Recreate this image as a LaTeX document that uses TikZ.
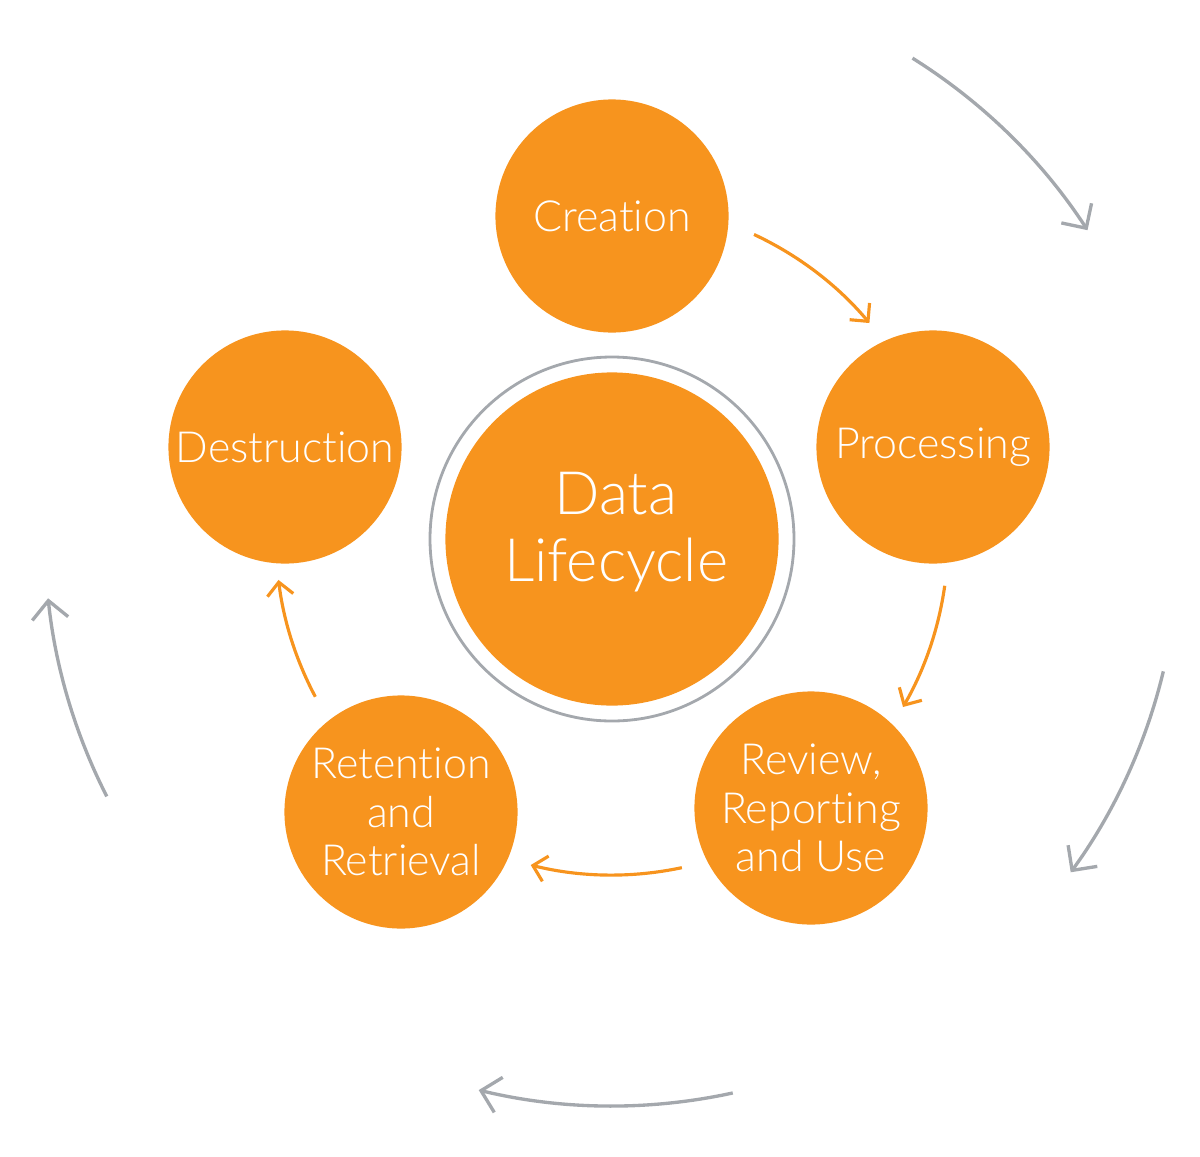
\documentclass[tikz,border=0pt]{standalone}
\usepackage{fontspec}
\setmainfont{Lato}[UprightFont={* Light},Ligatures=CommonOff]
\usetikzlibrary{arrows.meta}
\definecolor{lifeorange}{HTML}{F7941E}
\definecolor{lifegray}{HTML}{A4A8AD}

\begin{document}
\begin{tikzpicture}[x=.01cm,y=.01cm,
  stage/.style={circle,fill=lifeorange,minimum size=2.33cm,inner sep=0pt,text=white,align=center,font=\fontsize{12.2}{13.7}\selectfont},
  stageflow/.style={lifeorange,line width=.9pt,-{Straight Barb[length=1.3mm,width=2.6mm]}},
  ringflow/.style={lifegray,line width=.95pt,-{Straight Barb[length=1.8mm,width=3.6mm]}}]
\useasboundingbox (0,0) rectangle (1200,1156);
\coordinate (c) at (612,617);
% centre
\draw[lifegray,line width=.8pt] (c) circle (182);
\node[stage,minimum size=3.33cm] (core) at (c) {};
\node[text=white,align=center,font=\fontsize{17}{19.2}\selectfont] (coretext) at ([shift={(4,7)}]core.center) {Data\\Lifecycle};
% stages
\node[stage] (creation) at (612,940) {Creation};
\node[stage] (processing) at (933,709) {Processing};
\node[stage] (review) at (811,348) {Review,\\Reporting\\and Use};
\node[stage] (retention) at (401,344) {Retention\\and\\Retrieval};
\node[stage] (destruction) at (285,709) {Destruction};
% arrows between stages
\foreach \a/\b in {65/40,-8/-30,-78/-104,208/187}
  \draw[stageflow] (c) ++(\a:336) arc (\a:\b:336);
% outer cycle
\foreach \a/\b in {58/33,-13.5/-36,-77.7/-103.6,207/186}
  \draw[ringflow] (c) ++(\a:567) arc (\a:\b:567);
\end{tikzpicture}
\end{document}
